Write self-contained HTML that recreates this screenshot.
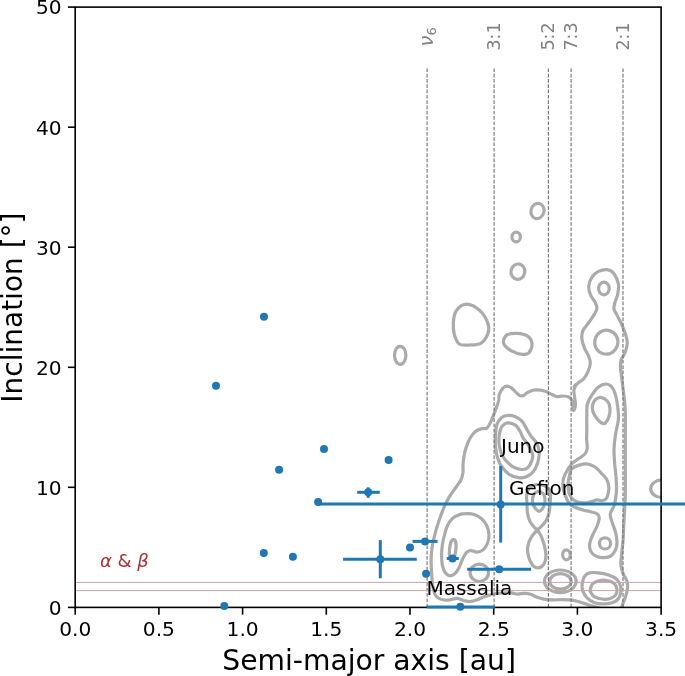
<!DOCTYPE html>
<html><head><meta charset="utf-8">
<style>
html,body{margin:0;padding:0;background:#fff;}
body{width:685px;height:676px;overflow:hidden;}
svg{display:block;}
text{font-family:"DejaVu Sans","Liberation Sans",sans-serif;}
.tk{font-size:20.2px;fill:#000;}
.lab{font-size:28.2px;fill:#000;}
.res{font-size:17.6px;fill:#808080;}
.nm{font-size:20px;fill:#000;}
.ax{stroke:#000;stroke-width:1.6;fill:none;}
.dash{stroke:#777;stroke-width:1.15;stroke-dasharray:3.7 1.6;fill:none;}
.red{stroke:#c8a4a8;stroke-width:1;fill:none;}
.eb{stroke:#1f77b4;stroke-width:3;fill:none;}
.pt{fill:#1f77b4;}
.ct{stroke:#ababab;stroke-width:3.2;fill:none;stroke-linejoin:round;stroke-linecap:round;}
</style></head>
<body>
<svg width="685" height="676" viewBox="0 0 685 676">
<rect x="0" y="0" width="685" height="676" fill="#fff"/>
<defs><clipPath id="axclip"><rect x="75.2" y="7.1" width="585.9" height="600.3"/></clipPath></defs>
<!-- CONTOURS -->
<g class="ct" id="contours" clip-path="url(#axclip)">
<ellipse cx="537.5" cy="211.0" rx="6.5" ry="7.7" transform="rotate(15 537.5 211.0)"/>
<ellipse cx="516.2" cy="237.0" rx="4.2" ry="4.8"/>
<ellipse cx="517.9" cy="271.7" rx="6.9" ry="7.7" transform="rotate(10 517.9 271.7)"/>
<ellipse cx="400.2" cy="355.3" rx="5.7" ry="9.0"/>
<path d="M466.6 304.1C470.6 304.1 476.4 307.4 479.9 310.7C483.5 314.0 486.8 320.1 488.1 324.0C489.4 328.0 488.9 331.2 487.6 334.4C486.4 337.6 483.7 341.5 480.7 343.3C477.7 345.0 473.2 344.9 469.6 345.0C466.0 345.2 461.8 345.8 459.2 344.0C456.7 342.2 455.3 338.0 454.3 334.4C453.4 330.8 453.0 326.5 453.3 322.5C453.6 318.6 454.1 313.8 456.3 310.7C458.5 307.6 462.7 304.1 466.6 304.1Z"/>
<path d="M506.6 335.1C508.8 333.5 513.5 333.2 516.9 333.3C520.4 333.5 524.8 334.1 527.3 335.9C529.8 337.6 531.8 341.2 532.0 344.0C532.3 346.8 530.4 351.1 528.8 352.9C527.1 354.6 525.1 354.7 522.1 354.3C519.1 354.0 514.1 352.5 511.0 350.7C507.9 348.8 504.3 345.8 503.6 343.3C502.9 340.7 504.3 336.8 506.6 335.1Z"/>
<ellipse cx="603.9" cy="288.5" rx="5.3" ry="6.4"/>
<ellipse cx="606.3" cy="342.2" rx="11.6" ry="12.0" transform="rotate(15 606.3 342.2)"/>
<ellipse cx="605.0" cy="543.4" rx="5.6" ry="5.6"/>
<ellipse cx="566.4" cy="554.8" rx="3.8" ry="5.0"/>
<ellipse cx="560.3" cy="581.3" rx="15.8" ry="11.3"/>
<ellipse cx="560.4" cy="581.4" rx="10.7" ry="7.8"/>
<ellipse cx="479.3" cy="572.8" rx="9.2" ry="8.7"/>
<ellipse cx="452.7" cy="549.2" rx="3.2" ry="10.0" transform="rotate(6 452.7 549.2)"/>
<path d="M600.7 608.3C599.5 608.0 596.1 607.2 593.4 606.4C590.7 605.6 587.4 604.4 584.7 603.5C582.0 602.6 579.8 601.9 577.4 601.3C575.0 600.7 572.8 600.2 570.1 599.9C567.4 599.6 564.2 599.6 561.3 599.6C558.4 599.6 555.5 600.0 552.6 599.9C549.7 599.8 546.5 599.6 543.8 599.1C541.1 598.6 538.7 597.8 536.5 597.0C534.3 596.2 532.7 594.8 530.7 594.2C528.8 593.6 527.0 593.3 524.8 593.3C522.6 593.3 519.8 594.2 517.5 594.1C515.2 594.0 513.5 593.0 510.9 592.8C508.3 592.6 504.9 592.8 502.0 593.0C499.1 593.2 495.8 593.5 493.8 593.8C491.8 594.1 491.7 594.5 490.0 595.0C488.3 595.5 485.5 596.3 483.4 597.1C481.3 597.9 479.4 599.0 477.2 599.7C475.0 600.4 472.2 601.4 470.0 601.5C467.8 601.6 466.1 601.0 463.9 600.5C461.7 600.0 459.0 598.4 456.8 598.3C454.6 598.2 452.6 599.4 450.7 599.7C448.8 600.0 447.4 600.4 445.5 600.2C443.6 600.0 441.1 599.5 439.4 598.6C437.7 597.8 436.4 597.2 435.3 595.1C434.2 593.0 433.4 589.1 432.8 585.9C432.2 582.7 432.1 579.2 431.8 575.7C431.5 572.2 431.3 568.5 431.2 565.0C431.1 561.5 431.0 558.6 431.3 555.0C431.6 551.4 432.0 547.2 432.8 543.3C433.5 539.3 434.6 535.4 435.7 531.4C436.8 527.5 438.1 523.5 439.4 519.6C440.8 515.6 442.2 511.4 443.8 507.8C445.4 504.1 447.0 500.8 449.0 497.4C451.0 494.0 453.9 490.2 455.9 487.3C457.9 484.4 459.9 482.3 461.0 479.9C462.2 477.4 462.6 475.0 463.0 472.5C463.3 470.0 462.8 467.8 463.0 465.1C463.1 462.4 463.5 459.2 464.0 456.2C464.5 453.3 465.2 450.3 466.2 447.3C467.2 444.4 468.4 441.1 469.9 438.5C471.4 435.9 473.2 433.4 475.1 431.8C476.9 430.2 479.0 429.5 481.0 428.8C483.0 428.2 485.3 429.2 486.9 428.1C488.5 427.0 489.5 424.4 490.6 422.2C491.7 420.0 492.6 417.3 493.6 414.8C494.6 412.3 495.7 409.9 496.5 407.4C497.4 404.9 498.3 402.1 498.8 400.0C499.2 397.9 498.5 396.8 499.2 394.8C499.9 392.8 501.6 389.6 502.9 388.1C504.3 386.7 505.9 386.2 507.4 386.2C508.8 386.2 510.3 387.1 511.8 388.1C513.3 389.2 514.9 391.3 516.2 392.6C517.6 393.8 518.7 395.0 519.9 395.5C521.2 396.0 522.4 396.0 523.6 395.5C524.9 395.0 525.7 393.5 527.3 392.6C528.9 391.7 531.0 390.5 533.3 390.1C535.5 389.6 538.4 389.8 540.7 390.1C542.9 390.4 544.6 391.0 546.6 391.8C548.5 392.6 550.8 394.0 552.5 394.8C554.2 395.6 555.2 396.4 556.9 396.6C558.6 396.8 560.9 395.9 562.8 396.0C564.8 396.1 567.2 396.2 568.8 397.0C570.3 397.8 571.2 398.5 572.0 400.7C572.8 402.9 572.9 409.6 573.5 410.3C574.1 411.1 575.2 407.2 575.4 405.1C575.6 403.1 574.9 400.2 574.7 397.8C574.4 395.3 573.7 392.6 573.9 390.4C574.2 388.1 576.1 385.0 576.2 384.4C576.2 383.9 573.8 387.1 574.1 387.0C574.3 386.8 576.1 384.6 577.8 383.3C579.4 381.9 581.9 380.8 583.7 378.8C585.4 376.8 587.0 374.0 588.1 371.4C589.2 368.8 590.2 365.7 590.3 363.3C590.4 360.8 589.8 359.2 588.8 356.6C587.9 354.0 585.6 350.7 584.4 347.8C583.2 344.8 582.1 341.7 581.9 338.9C581.6 336.0 581.8 333.4 582.9 330.6C584.1 327.9 586.9 325.3 588.8 322.5C590.8 319.6 593.4 316.1 594.8 313.6C596.1 311.1 597.0 309.7 597.0 307.7C597.0 305.7 595.9 304.0 594.8 301.8C593.7 299.6 591.3 297.0 590.3 294.4C589.3 291.8 588.6 289.1 588.8 286.2C589.1 283.4 590.2 279.8 591.8 277.4C593.4 274.9 595.9 272.7 598.5 271.4C601.1 270.2 604.7 269.3 607.3 269.7C609.9 270.0 612.1 271.3 614.0 273.7C615.8 276.1 617.8 280.6 618.4 284.0C619.0 287.5 618.3 291.2 617.7 294.4C617.1 297.6 615.4 300.8 614.7 303.3C614.1 305.7 613.6 307.2 614.0 309.2C614.4 311.1 615.6 312.4 617.0 315.1C618.3 317.8 620.5 321.5 622.1 325.4C623.8 329.4 626.0 335.4 626.8 338.9C627.6 342.3 627.2 343.8 626.8 346.3C626.4 348.7 625.5 351.4 624.6 353.7C623.7 355.9 622.0 357.4 621.3 359.6C620.6 361.8 620.4 364.0 620.4 367.0C620.5 369.9 621.2 373.6 621.6 377.3C622.1 381.0 622.6 385.2 623.1 389.2C623.6 393.1 624.2 397.1 624.6 401.0C625.0 405.0 625.2 407.2 625.3 412.8C625.5 418.5 625.3 426.2 625.3 434.8C625.3 443.4 625.3 454.5 625.3 464.4C625.3 474.2 625.5 486.4 625.3 494.0C625.2 501.6 624.8 504.9 624.6 510.0C624.3 515.1 624.1 519.9 623.8 524.8C623.6 529.7 623.5 534.7 623.1 539.6C622.7 544.5 622.0 550.2 621.6 554.4C621.3 558.6 620.6 561.5 620.9 564.7C621.1 567.9 622.1 570.9 623.1 573.6C624.1 576.3 626.1 578.5 626.8 581.0C627.5 583.5 627.8 585.7 627.5 588.4C627.3 591.1 626.2 594.6 625.3 597.3C624.5 600.0 623.0 602.8 622.4 604.7C621.8 606.5 621.8 607.8 621.6 608.4"/>
<path d="M507.4 415.5C509.7 415.3 513.0 415.7 515.5 416.7C518.0 417.7 520.3 419.4 522.2 421.4C524.0 423.4 525.1 426.4 526.6 428.8C528.1 431.3 529.3 433.7 531.0 436.2C532.8 438.7 535.6 440.9 537.0 443.6C538.3 446.3 539.0 449.3 539.2 452.5C539.3 455.7 538.7 459.6 537.7 462.8C536.7 466.0 535.2 469.4 533.3 471.7C531.3 474.1 528.3 475.9 525.9 476.9C523.4 477.9 521.2 478.0 518.5 477.6C515.7 477.3 512.3 476.4 509.6 474.7C506.9 472.9 504.2 470.0 502.2 467.3C500.2 464.6 498.9 461.9 497.8 458.4C496.6 455.0 495.9 450.5 495.5 446.6C495.2 442.6 495.3 438.4 495.5 434.7C495.8 431.0 496.0 427.2 497.0 424.4C498.0 421.5 499.7 419.2 501.4 417.7C503.2 416.2 505.0 415.7 507.4 415.5Z"/>
<path d="M508.8 422.9C510.6 423.1 513.7 423.8 515.5 425.1C517.4 426.5 518.7 428.9 519.9 431.0C521.2 433.1 521.7 435.6 522.9 437.7C524.1 439.8 525.7 440.9 527.3 443.6C528.9 446.3 531.8 451.1 532.5 454.0C533.3 456.8 532.5 458.4 531.8 460.6C531.0 462.8 529.6 465.8 528.1 467.3C526.6 468.8 525.0 469.4 522.9 469.5C520.8 469.6 518.0 469.1 515.5 468.0C513.0 466.9 510.3 464.9 508.1 462.8C505.9 460.7 503.7 458.4 502.2 455.4C500.7 452.5 499.7 448.5 499.2 445.1C498.7 441.6 498.9 437.7 499.2 434.7C499.6 431.8 500.5 429.2 501.4 427.3C502.4 425.5 503.9 424.4 505.1 423.6C506.4 422.9 507.1 422.7 508.8 422.9Z"/>
<path d="M465.3 513.7C467.9 513.6 471.5 513.5 474.2 514.4C476.9 515.3 479.5 517.0 481.6 518.8C483.7 520.7 485.5 522.9 486.7 525.5C488.0 528.1 488.8 531.4 489.0 534.4C489.1 537.3 488.5 540.7 487.5 543.3C486.5 545.8 484.8 548.4 483.0 549.9C481.3 551.4 479.1 552.0 477.1 552.1C475.2 552.3 472.9 550.7 471.2 550.7C469.5 550.7 468.1 550.9 466.8 552.1C465.4 553.4 464.3 555.6 463.1 558.0C461.8 560.5 460.7 564.3 459.4 566.9C458.0 569.5 456.5 572.1 454.9 573.6C453.3 575.1 451.4 575.9 449.8 575.8C448.2 575.7 446.6 574.6 445.3 572.8C444.1 571.1 443.0 568.4 442.4 565.4C441.8 562.5 441.6 558.5 441.6 555.1C441.6 551.6 441.9 548.2 442.4 544.7C442.9 541.3 443.7 537.6 444.6 534.4C445.4 531.2 446.3 528.1 447.5 525.5C448.8 522.9 450.1 520.6 452.0 518.8C453.8 517.1 456.4 515.7 458.6 514.9C460.9 514.0 462.7 513.7 465.3 513.7Z"/>
<path d="M537.2 530.0C536.1 528.6 535.3 528.5 534.1 527.0C532.9 525.5 530.9 523.4 529.8 521.1C528.7 518.8 528.0 516.0 527.5 513.2C527.0 510.4 527.1 507.3 527.0 504.3C526.9 501.3 526.4 497.9 526.6 495.4C526.9 492.8 527.4 490.6 528.5 489.0C529.6 487.4 531.3 486.2 533.0 485.5C534.7 484.8 536.6 484.5 538.5 484.5C540.4 484.5 542.8 484.9 544.5 485.7C546.2 486.5 548.0 487.7 549.0 489.5C550.0 491.3 550.3 493.8 550.5 496.3C550.7 498.8 550.2 501.5 550.0 504.3C549.8 507.1 549.7 510.4 549.0 513.2C548.3 516.0 547.2 518.8 545.8 521.1C544.4 523.4 542.1 525.5 540.7 527.0C539.3 528.5 538.5 528.6 537.2 530.0C535.9 531.4 534.0 533.2 532.7 535.1C531.4 537.0 530.1 539.1 529.2 541.3C528.4 543.5 527.8 546.0 527.6 548.4C527.5 550.8 527.8 553.3 528.3 555.5C528.8 557.7 529.5 559.9 530.5 561.7C531.5 563.6 532.9 565.6 534.1 566.6C535.3 567.6 536.4 567.9 537.6 567.9C538.9 567.9 540.4 567.5 541.6 566.6C542.8 565.7 544.0 564.3 544.7 562.6C545.4 560.9 545.8 558.6 545.9 556.4C546.0 554.2 545.6 551.7 545.2 549.3C544.8 546.9 544.1 544.6 543.4 542.2C542.6 539.8 541.7 537.1 540.7 535.1C539.7 533.1 538.3 531.4 537.2 530.0Z"/>
<path d="M538.7 491.4C540.1 491.4 542.0 492.4 543.0 493.5C544.0 494.6 544.5 496.2 544.8 498.0C545.1 499.8 545.0 502.2 544.6 504.0C544.2 505.8 543.4 507.3 542.5 508.5C541.6 509.7 540.4 511.4 539.2 511.4C538.0 511.4 536.5 509.7 535.5 508.5C534.5 507.3 533.4 505.8 532.9 504.0C532.4 502.2 532.4 499.8 532.7 498.0C533.0 496.2 533.5 494.6 534.5 493.5C535.5 492.4 537.3 491.4 538.7 491.4Z"/>
<path d="M605.9 384.0C608.1 384.0 610.2 385.1 611.8 387.0C613.4 388.8 614.5 391.8 615.5 395.1C616.5 398.4 617.2 403.0 617.7 406.9C618.2 410.9 618.8 414.1 618.4 418.8C618.1 423.4 616.2 429.7 615.5 434.8C614.7 439.9 614.1 444.7 614.0 449.6C613.9 454.5 614.4 459.4 614.7 464.4C615.1 469.3 616.0 474.2 616.2 479.2C616.5 484.1 616.6 489.5 616.2 494.0C615.8 498.4 614.9 502.8 614.0 505.8C613.1 508.8 611.7 510.0 611.0 511.7C610.4 513.4 610.0 514.0 610.3 515.9C610.5 517.9 611.7 520.6 612.5 523.3C613.4 526.0 614.7 529.0 615.5 532.2C616.2 535.4 617.0 539.6 617.0 542.5C617.0 545.5 616.5 547.7 615.5 549.9C614.5 552.2 612.9 554.6 611.0 555.9C609.2 557.1 606.7 557.5 604.4 557.6C602.0 557.8 599.1 557.4 597.0 556.6C594.9 555.8 593.0 554.5 591.8 552.9C590.6 551.3 589.8 549.0 589.6 547.0C589.3 545.0 589.7 543.3 590.3 541.1C590.9 538.8 592.2 536.1 593.3 533.7C594.4 531.2 596.0 528.9 597.0 526.3C598.0 523.7 599.2 520.2 599.2 518.1C599.2 516.0 598.6 514.8 597.0 513.7C595.4 512.6 591.8 512.1 589.6 511.5C587.4 510.9 586.1 510.9 583.7 510.2C581.2 509.5 577.3 508.5 574.8 507.3C572.3 506.0 570.5 504.8 568.9 502.8C567.3 500.9 566.2 498.2 565.2 495.4C564.2 492.7 563.2 489.5 563.0 486.6C562.7 483.6 562.9 480.5 563.7 477.7C564.5 474.9 566.1 472.1 567.7 469.6C569.2 467.0 571.2 464.4 573.0 462.6C574.8 460.8 576.5 460.2 578.5 458.8C580.5 457.3 583.4 455.7 584.9 454.0C586.3 452.3 586.9 450.9 587.2 448.4C587.5 445.9 586.7 442.5 586.6 439.2C586.6 436.0 586.8 433.0 586.8 428.9C586.8 424.7 586.7 418.5 586.8 414.3C586.9 410.2 586.5 407.2 587.4 404.0C588.2 400.8 590.0 397.9 591.8 395.1C593.7 392.3 596.1 388.8 598.5 387.0C600.8 385.1 603.6 384.0 605.9 384.0Z"/>
<path d="M600.7 397.3C602.7 397.6 605.8 399.2 607.3 401.0C608.9 402.9 609.8 405.7 610.0 408.4C610.2 411.1 609.6 414.8 608.8 417.3C608.0 419.7 606.2 422.2 605.1 423.2C604.0 424.2 603.5 423.9 602.2 423.2C600.8 422.5 598.5 420.7 597.0 418.8C595.4 416.8 593.6 413.6 592.8 411.4C592.1 409.1 592.1 407.4 592.5 405.4C593.0 403.5 594.1 400.9 595.5 399.5C596.9 398.2 598.7 397.1 600.7 397.3Z"/>
<path d="M571.8 468.8C573.4 467.2 576.5 465.9 579.2 465.1C581.9 464.3 585.4 463.7 588.1 464.1C590.8 464.5 593.3 465.8 595.5 467.3C597.7 468.9 599.6 471.3 601.4 473.3C603.3 475.2 605.4 477.0 606.6 479.2C607.8 481.4 608.6 484.1 608.8 486.6C609.1 489.0 608.6 491.9 608.1 494.0C607.6 496.1 607.0 498.0 605.9 499.1C604.7 500.3 602.9 500.5 601.4 500.6C599.9 500.7 598.6 499.8 597.0 499.9C595.4 500.0 593.8 500.9 591.8 501.4C589.8 501.9 587.5 502.7 585.1 502.8C582.8 503.0 580.0 502.8 577.8 502.1C575.5 501.4 573.3 500.0 571.8 498.4C570.4 496.8 569.5 495.0 568.9 492.5C568.3 490.0 568.0 486.6 568.1 483.6C568.3 480.7 569.0 477.2 569.6 474.7C570.2 472.3 570.2 470.4 571.8 468.8Z"/>
<path d="M582.2 584.0C582.5 581.7 583.2 578.4 584.4 576.6C585.6 574.7 587.2 573.5 589.6 572.9C591.9 572.3 595.3 572.5 598.5 572.9C601.7 573.2 605.7 574.0 608.8 575.1C611.9 576.2 615.0 577.6 617.0 579.5C618.9 581.5 620.2 584.2 620.7 586.9C621.1 589.6 620.9 593.3 619.9 595.8C618.9 598.3 617.3 600.4 614.7 601.7C612.1 603.1 607.8 603.8 604.4 603.9C600.9 604.1 597.0 603.6 594.0 602.5C591.1 601.3 588.6 599.4 586.6 597.3C584.7 595.2 583.2 592.1 582.5 589.9C581.7 587.7 581.9 586.2 582.2 584.0Z"/>
<path d="M590.3 589.1C590.6 587.4 591.7 584.7 593.3 583.2C594.9 581.8 597.6 581.0 599.9 580.6C602.3 580.1 605.0 580.1 607.3 580.6C609.7 581.0 612.4 581.8 614.0 583.2C615.6 584.7 616.7 587.2 617.0 589.1C617.2 591.1 616.6 593.5 615.5 595.1C614.4 596.6 612.4 597.8 610.3 598.5C608.2 599.2 605.4 599.4 602.9 599.2C600.4 599.0 597.4 598.2 595.5 597.3C593.6 596.3 592.2 594.9 591.4 593.6C590.5 592.2 590.0 590.9 590.3 589.1Z"/>
<ellipse cx="662.0" cy="488.8" rx="11.3" ry="8.9"/>
</g>
<!-- resonance lines -->
<g class="dash">
<path d="M427.1 607.4V67"/><path d="M494.1 607.4V67"/><path d="M548.4 607.4V67"/><path d="M571.1 607.4V67"/><path d="M623 607.4V67"/>
</g>
<g class="res">
<text transform="translate(432.8 46.5) rotate(-90)"><tspan font-style="italic" font-size="19.5">ν</tspan><tspan font-size="13" dy="2.8">6</tspan></text>
<text transform="translate(500 50.6) rotate(-90)">3:1</text>
<text transform="translate(554.3 50.6) rotate(-90)">5:2</text>
<text transform="translate(577 50.6) rotate(-90)">7:3</text>
<text transform="translate(629.3 50.6) rotate(-90)">2:1</text>
</g>
<!-- red lines -->
<path class="red" d="M75.2 582.4H661.1"/><path class="red" d="M75.2 590.6H661.1"/>
<text x="100" y="567.2" font-size="18" fill="#a83232"><tspan font-style="italic">α</tspan> &amp; <tspan font-style="italic">β</tspan></text>
<!-- names -->
<g class="nm">
<text x="501" y="452.7">Juno</text>
<text x="509" y="495.2">Gefion</text>
<text x="426.4" y="595.4">Massalia</text>
</g>
<!-- axes -->
<rect class="ax" x="75.2" y="7.1" width="585.9" height="600.3"/>
<g class="ax">
<path d="M75.2 607.4v7.3"/><path d="M158.9 607.4v7.3"/><path d="M242.6 607.4v7.3"/><path d="M326.3 607.4v7.3"/><path d="M410 607.4v7.3"/><path d="M493.7 607.4v7.3"/><path d="M577.4 607.4v7.3"/><path d="M661.1 607.4v7.3"/>
<path d="M75.2 607.4h-7.3"/><path d="M75.2 487.3h-7.3"/><path d="M75.2 367.3h-7.3"/><path d="M75.2 247.2h-7.3"/><path d="M75.2 127.2h-7.3"/><path d="M75.2 7.1h-7.3"/>
</g>
<!-- error bars -->
<g class="eb">
<path d="M318.1 504.1H685"/>
<path d="M500.7 465.9V542.6"/>
<path d="M357.2 492.3H379.8"/><path d="M368.2 487.3V497.8"/>
<path d="M343.1 559.2H416.8"/><path d="M380.3 540.1V578.3"/>
<path d="M412.5 541.4H437.6"/>
<path d="M446.8 558.5H458.8"/>
<path d="M467.2 569.3H531.1"/>
<path d="M426.8 607H494.7"/>
</g>
<g class="pt">
<circle cx="264" cy="316.7" r="4"/>
<circle cx="216" cy="385.8" r="4"/>
<circle cx="324" cy="449" r="4"/>
<circle cx="279.1" cy="469.7" r="4"/>
<circle cx="318.1" cy="502.1" r="4"/>
<circle cx="263.8" cy="552.9" r="4"/>
<circle cx="292.9" cy="556.7" r="4"/>
<circle cx="224.3" cy="606" r="4"/>
<circle cx="388.6" cy="459.9" r="4"/>
<circle cx="368.2" cy="492.3" r="4"/>
<circle cx="380.3" cy="559.2" r="4"/>
<circle cx="410" cy="547.6" r="4"/>
<circle cx="425.1" cy="541.4" r="4"/>
<circle cx="426.1" cy="573.8" r="4"/>
<circle cx="452.5" cy="558.5" r="4"/>
<circle cx="499.2" cy="569.3" r="4"/>
<circle cx="500.7" cy="504.4" r="4"/>
<circle cx="460.3" cy="606.8" r="4"/>
</g>
<g class="tk" text-anchor="middle">
<text x="75.2" y="636.4">0.0</text><text x="158.9" y="636.4">0.5</text><text x="242.6" y="636.4">1.0</text><text x="326.3" y="636.4">1.5</text><text x="410" y="636.4">2.0</text><text x="493.7" y="636.4">2.5</text><text x="577.4" y="636.4">3.0</text><text x="661.1" y="636.4">3.5</text>
</g>
<g class="tk" text-anchor="end">
<text x="61.7" y="614.7">0</text><text x="61.7" y="494.6">10</text><text x="61.7" y="374.6">20</text><text x="61.7" y="254.5">30</text><text x="61.7" y="134.5">40</text><text x="61.7" y="14.4">50</text>
</g>
<text class="lab" x="369.1" y="670.4" text-anchor="middle">Semi-major axis [au]</text>
<text class="lab" style="font-size:28px" transform="translate(21.5 307.6) rotate(-90)" text-anchor="middle">Inclination [°]</text>
</svg>
</body></html>
